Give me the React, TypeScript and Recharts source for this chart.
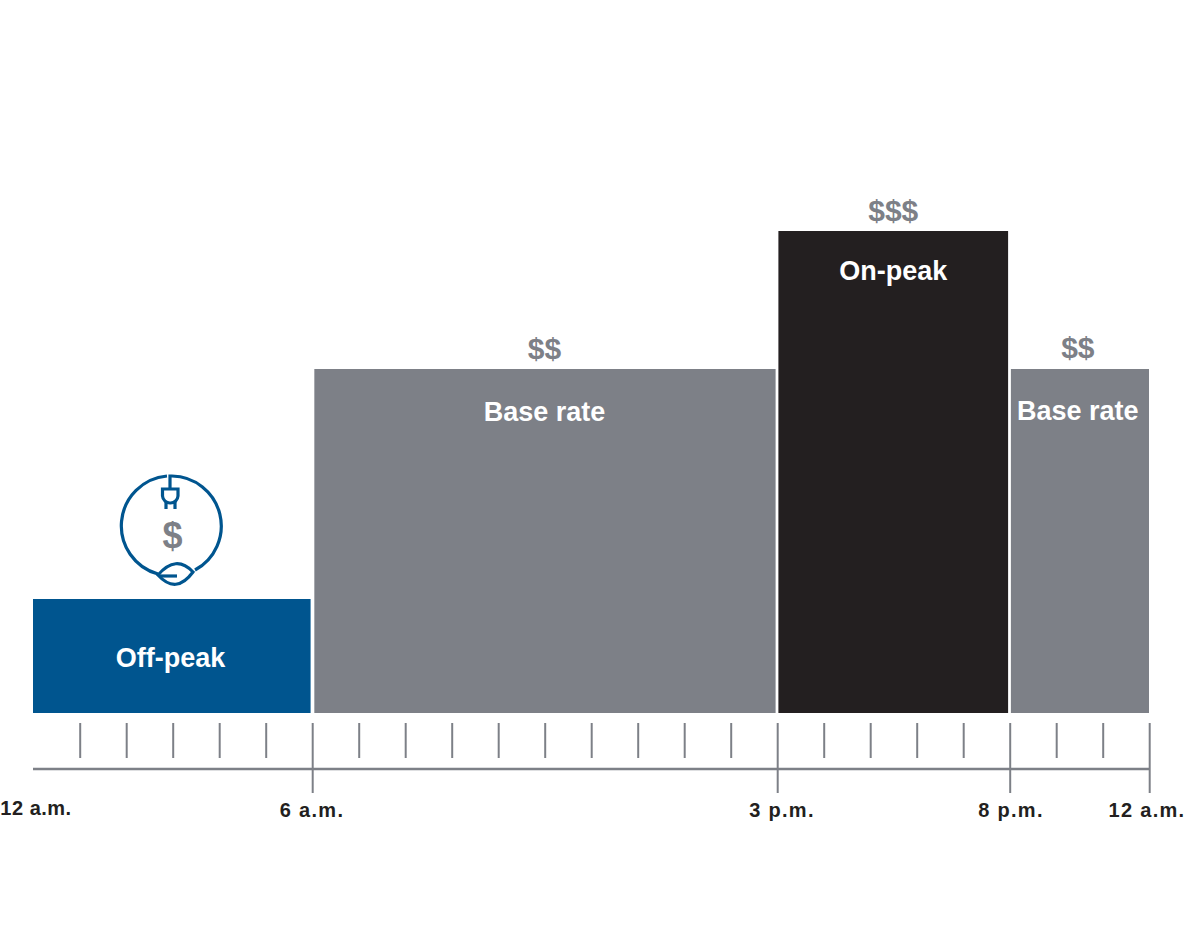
import { ComposedChart, Area, XAxis, YAxis, ReferenceDot } from 'recharts';

// the picture spaces its ticks evenly, so the x axis counts tick slots and not real hours
const slots = [0, 1, 2, 3, 4, 5, 6, 7, 8, 9, 10, 11, 12, 13, 14, 15, 16, 17, 18, 19, 20, 21, 22, 23, 24];
const majorLabels: Record<number, string> = { 0: '12 a.m.', 6: '6 a.m.', 16: '3 p.m.', 21: '8 p.m.', 24: '12 a.m.' };
const labelNudge: Record<number, number> = { 0: 3, 6: 0, 16: 5, 21: 1.5, 24: -2 };

const periodNames = ['Off-peak', 'Base rate', 'On-peak', 'Base rate'];
const periodStart = [0, 6.05, 16.03, 21.03];
const periodEnd = [5.97, 15.97, 20.97, 24];
const periodRate = [1.14, 3.44, 4.82, 3.44];
const periodCost = ['$', '$$', '$$$', '$$'];
const periodColors = ['#00558f', '#7d8087', '#231f20', '#7d8087'];
const labelSlots = [2.96, 11, 18.5, 22.47];
const nameLevels = [0.56, 3.02, 4.43, 3.03];
const costLevels = [1.78, 3.65, 5.03, 3.66];

const FONT = '"Liberation Sans", Arial, sans-serif';
const GREY = '#7d8087';
const BLUE = '#00558f';
const DARK = '#231f20';

function SlotTick({ x, y, payload }: any) {
  const label = majorLabels[payload.value];
  const first = payload.value === 0;
  const tx = x + 0.7;
  return (
    <g>
      {!first && (
        <line x1={tx} x2={tx} y1={y - 46} y2={label ? y + 24 : y - 11} stroke={GREY} strokeWidth={2} />
      )}
      {label && (
        <text
          x={x + labelNudge[payload.value]}
          y={first ? y + 46 : y + 48}
          textAnchor="middle"
          fontFamily={FONT}
          fontWeight={700}
          fontSize={20}
          letterSpacing={first ? 0.5 : 1.3}
          fill={DARK}
        >
          {label}
        </text>
      )}
    </g>
  );
}

function PlugIcon({ cx, cy }: any) {
  const ox = cx - 1.5;
  return (
    <g transform={`translate(${ox},${cy})`} fill="none" stroke={BLUE} strokeWidth={3.2}>
      <path d="M -4 -50 A 50 50 0 0 0 -13 48" />
      <path d="M 1 -50 A 50 50 0 0 1 24 44" />
      <path d="M 1 -50 L -1 -50 L -1 -37" />
      <path d="M -8.5 -37 H 7 V -30 A 7.5 7.5 0 0 1 -0.5 -23 A 7.5 7.5 0 0 1 -8.5 -30 Z" />
      <path d="M -5 -24 V -17 M 4 -24 V -17" />
      <path d="M -13 49 Q 5 28 22 46 Q 5 69 -13 49 Z" />
      <path d="M -11 50 H 6" />
    </g>
  );
}

export default function App() {
  return (
    <div style={{ position: 'absolute', left: 0, top: 0, width: 1200, height: 944, background: '#fff' }}>
      <ComposedChart width={1200} height={944} margin={{ top: 213, right: 51, bottom: 0, left: 33 }}>
        <XAxis
          dataKey="slot"
          type="number"
          domain={[0, 24]}
          ticks={slots}
          interval={0}
          height={175}
          tickLine={false}
          tickSize={0}
          tickMargin={0}
          axisLine={{ stroke: GREY, strokeWidth: 2.5 }}
          tick={SlotTick}
        />
        <YAxis hide type="number" domain={[-0.56, 5]} />
        {periodNames.map((name, i) => (
          <Area
            key={i}
            name={name}
            data={[
              { slot: periodStart[i], rate: periodRate[i] },
              { slot: periodEnd[i], rate: periodRate[i] },
            ]}
            dataKey="rate"
            type="linear"
            baseValue={0}
            stroke="none"
            fill={periodColors[i]}
            fillOpacity={1}
            dot={false}
            activeDot={false}
            isAnimationActive={false}
          />
        ))}
        {periodNames.map((name, i) => (
          <ReferenceDot
            key={`name-${i}`}
            x={labelSlots[i]}
            y={nameLevels[i]}
            r={0}
            stroke="none"
            fill="none"
            label={{ value: name, position: 'center', fill: '#fff', fontFamily: FONT, fontWeight: 700, fontSize: 27 }}
          />
        ))}
        {periodCost.map((cost, i) => (
          <ReferenceDot
            key={`cost-${i}`}
            x={i === 0 ? 3 : labelSlots[i]}
            y={costLevels[i]}
            r={0}
            stroke="none"
            fill="none"
            ifOverflow="visible"
            label={{ value: cost, position: 'center', fill: GREY, fontFamily: FONT, fontWeight: 700, fontSize: i === 0 ? 36 : 30 }}
          />
        ))}
        <ReferenceDot x={3} y={1.87} shape={PlugIcon} />
      </ComposedChart>
    </div>
  );
}
